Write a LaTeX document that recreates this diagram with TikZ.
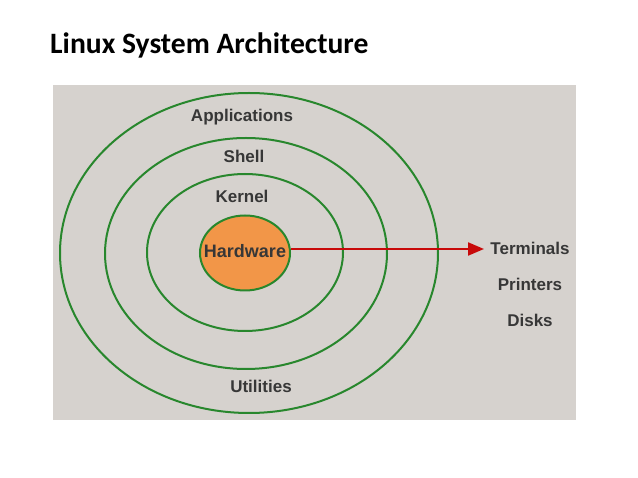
\documentclass[tikz,border=0pt]{standalone}
\usepackage{fontspec}
\setmainfont{Liberation Sans}
\newfontfamily\titlefont{Carlito}
\usetikzlibrary{shapes.geometric,arrows.meta}
\definecolor{bggray}{RGB}{214,210,206}
\definecolor{ringgreen}{RGB}{40,135,45}
\definecolor{hworange}{RGB}{242,150,72}
\definecolor{arrowred}{RGB}{200,10,10}
\definecolor{labelgray}{RGB}{55,55,55}
\tikzset{
  ring/.style={draw=ringgreen, line width=2pt, ellipse, inner sep=0pt},
  lbl/.style={font=\fontsize{17}{19}\selectfont\bfseries, text=labelgray, inner sep=0pt},
}
\begin{document}
\begin{tikzpicture}[x=1pt,y=-1pt]
\useasboundingbox (0,0) rectangle (638,478);
\fill[white] (0,0) rectangle (638,478);
\node[anchor=west, inner sep=0pt, font=\titlefont\fontsize{29.6}{32}\selectfont\bfseries] (title) at (50,45) {Linux System Architecture};
\fill[bggray] (53,85) rectangle (576,420);
\node[ring, minimum width=378pt, minimum height=320pt] (apps) at (249,253) {};
\node[ring, minimum width=282pt, minimum height=231pt] (shell) at (246,253.5) {};
\node[ring, minimum width=196pt, minimum height=157pt] (kernel) at (245,252.5) {};
\node[ring, fill=hworange, minimum width=90pt, minimum height=75pt] (hw) at (245,253) {};
\node[lbl, font=\fontsize{18}{20}\selectfont\bfseries] (lhw) at (245,251) {Hardware};
\node[lbl] (lapps) at (242,117) {Applications};
\node[lbl] (lshell) at (244,156) {Shell};
\node[lbl] (lkernel) at (242,196) {Kernel};
\node[lbl] (lutil) at (261,386) {Utilities};
\node[lbl] (term) at (530,248) {Terminals};
\node[lbl] (print) at (530,284) {Printers};
\node[lbl] (disks) at (530,320) {Disks};
\coordinate (tip) at (484,249);
\draw[arrowred, line width=2.2pt, -{Triangle[length=16pt,width=13pt]}] (hw.east |- tip) -- (tip);
\end{tikzpicture}
\end{document}
